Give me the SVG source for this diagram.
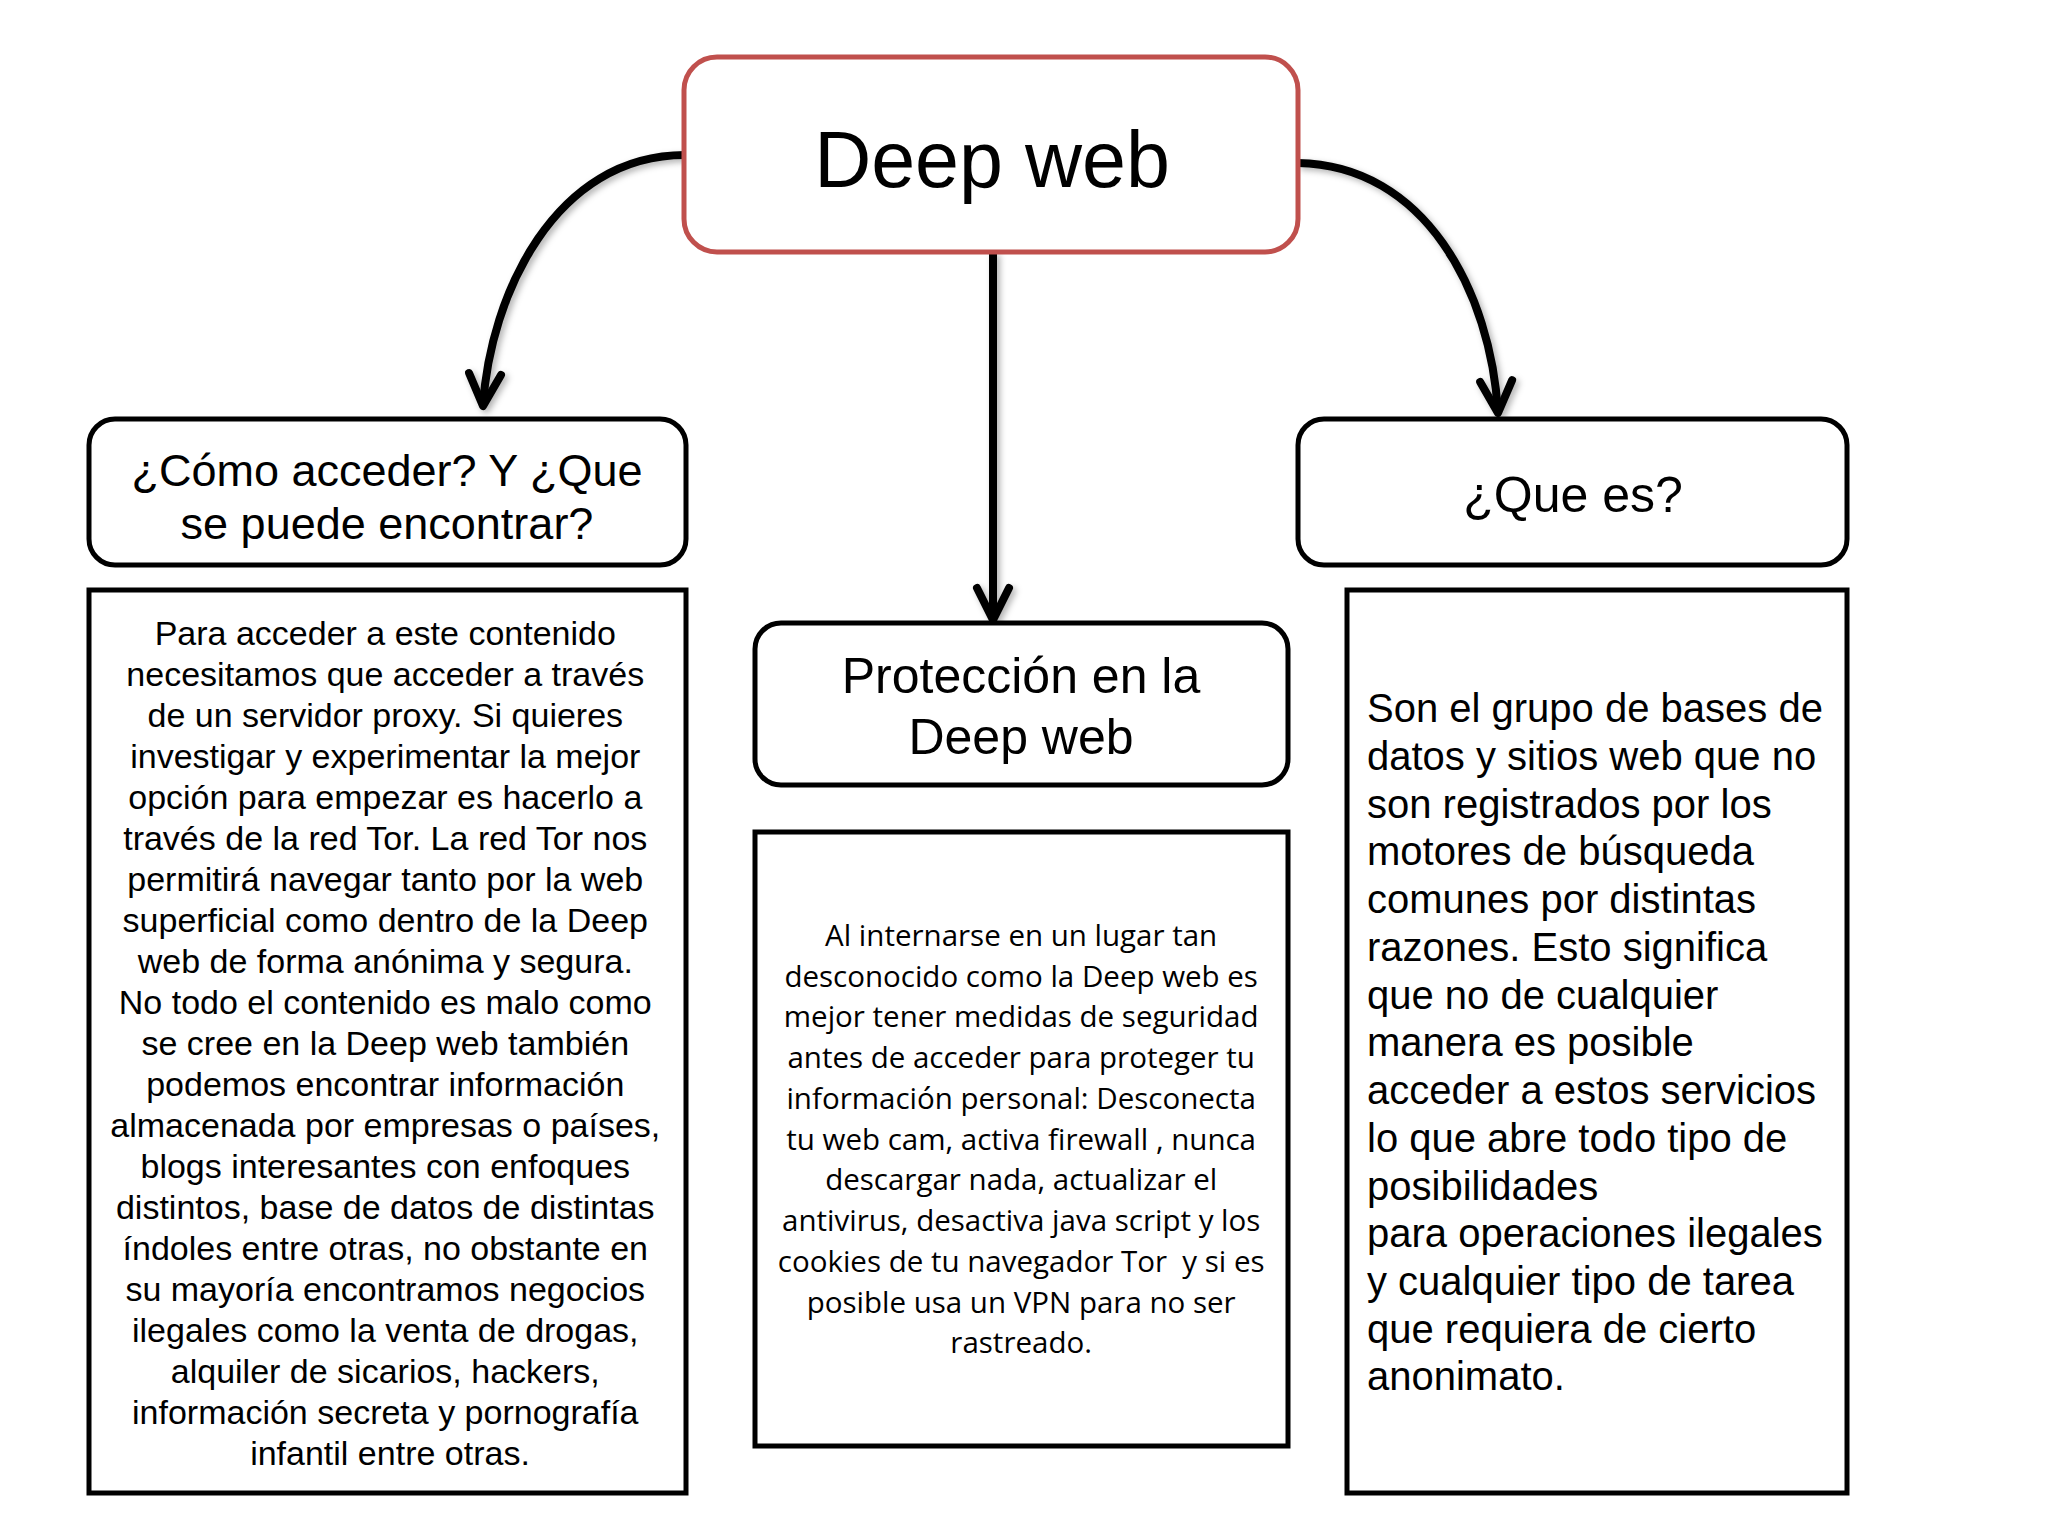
<svg xmlns="http://www.w3.org/2000/svg" width="2048" height="1536" viewBox="0 0 2048 1536">
<style>
.bg{fill:#ffffff}
.box{fill:#ffffff;stroke:#000000;stroke-width:5}
.root{fill:#ffffff;stroke:#c0504d;stroke-width:5}
.t{font-family:"Liberation Sans",Arial,sans-serif;fill:#000000;text-anchor:middle}
.tl{font-family:"Liberation Sans",Arial,sans-serif;fill:#000000;font-size:40px}
.tc{font-family:"Open Sans","Noto Sans",sans-serif;fill:#000000;text-anchor:middle;font-size:29.5px}
.body{font-size:34px}
.conn{fill:none;stroke:#000000;stroke-width:8;marker-end:url(#chev)}
</style>
<defs>
<filter id="sh" x="-20%" y="-20%" width="140%" height="140%">
<feDropShadow dx="3" dy="3" stdDeviation="3" flood-color="#000000" flood-opacity="0.3"/>
</filter>
<marker id="chev" viewBox="-40 -25 50 50" refX="0" refY="0" markerWidth="50" markerHeight="50" markerUnits="userSpaceOnUse" orient="auto">
<path d="M-32,-16 L0,0 L-32,16" fill="none" stroke="#000000" stroke-width="8" stroke-linecap="round" stroke-linejoin="round"/>
</marker>
</defs>
<rect class="bg" x="0" y="0" width="2048" height="1536"/>
<g id="connectors" filter="url(#sh)">
<path class="conn" d="M685,155 C555,155 490,295 483,406"/>
<path class="conn" d="M1298,163 C1425,165 1491,292 1498,413"/>
<path class="conn" d="M993,252 L993,620"/>
</g>
<g id="node-deepweb">
<rect class="root" x="684" y="57" width="614" height="195" rx="33"/>
<text class="t" x="992" y="187" font-size="79">Deep web</text>
</g>
<g id="node-como">
<rect class="box" x="89" y="419" width="597" height="146" rx="26"/>
<text class="t" font-size="45"><tspan x="387" y="486">¿Cómo acceder? Y ¿Que</tspan><tspan x="387" y="539">se puede encontrar?</tspan></text>
</g>
<g id="node-proteccion">
<rect class="box" x="755" y="623" width="533" height="162" rx="26"/>
<text class="t" font-size="50"><tspan x="1021" y="693">Protección en la</tspan><tspan x="1021" y="754">Deep web</tspan></text>
</g>
<g id="node-quees">
<rect class="box" x="1298" y="419" width="549" height="146" rx="26"/>
<text class="t" x="1573" y="512" font-size="50">¿Que es?</text>
</g>
<g id="node-como-body">
<rect class="box" x="89" y="590" width="597" height="903"/>
<text class="t body">
<tspan x="390" y="645">Para acceder a este contenido</tspan>
<tspan x="390" y="686">necesitamos que acceder a través</tspan>
<tspan x="390" y="727">de un servidor proxy. Si quieres</tspan>
<tspan x="390" y="768">investigar y experimentar la mejor</tspan>
<tspan x="390" y="809">opción para empezar es hacerlo a</tspan>
<tspan x="390" y="850">través de la red Tor. La red Tor nos</tspan>
<tspan x="390" y="891">permitirá navegar tanto por la web</tspan>
<tspan x="390" y="932">superficial como dentro de la Deep</tspan>
<tspan x="390" y="973">web de forma anónima y segura.</tspan>
<tspan x="390" y="1014">No todo el contenido es malo como</tspan>
<tspan x="390" y="1055">se cree en la Deep web también</tspan>
<tspan x="390" y="1096">podemos encontrar información</tspan>
<tspan x="390" y="1137">almacenada por empresas o países,</tspan>
<tspan x="390" y="1178">blogs interesantes con enfoques</tspan>
<tspan x="390" y="1219">distintos, base de datos de distintas</tspan>
<tspan x="390" y="1260">índoles entre otras, no obstante en</tspan>
<tspan x="390" y="1301">su mayoría encontramos negocios</tspan>
<tspan x="390" y="1342">ilegales como la venta de drogas,</tspan>
<tspan x="390" y="1383">alquiler de sicarios, hackers,</tspan>
<tspan x="390" y="1424">información secreta y pornografía</tspan>
<tspan x="390" y="1465">infantil entre otras.</tspan>
</text>
</g>
<g id="node-proteccion-body">
<rect class="box" x="755" y="832" width="533" height="614"/>
<text class="tc" xml:space="preserve">
<tspan x="1025" y="946">Al internarse en un lugar tan</tspan>
<tspan x="1025" y="987">desconocido como la Deep web es</tspan>
<tspan x="1025" y="1027">mejor tener medidas de seguridad</tspan>
<tspan x="1025" y="1068">antes de acceder para proteger tu</tspan>
<tspan x="1025" y="1109">información personal: Desconecta</tspan>
<tspan x="1025" y="1150">tu web cam, activa firewall , nunca</tspan>
<tspan x="1025" y="1190">descargar nada, actualizar el</tspan>
<tspan x="1025" y="1231">antivirus, desactiva java script y los</tspan>
<tspan x="1025" y="1272">cookies de tu navegador Tor  y si es</tspan>
<tspan x="1025" y="1313">posible usa un VPN para no ser</tspan>
<tspan x="1025" y="1353">rastreado.</tspan>
</text>
</g>
<g id="node-quees-body">
<rect class="box" x="1347" y="590" width="500" height="903"/>
<text class="tl">
<tspan x="1367" y="722">Son el grupo de bases de</tspan>
<tspan x="1367" y="770">datos y sitios web que no</tspan>
<tspan x="1367" y="818">son registrados por los</tspan>
<tspan x="1367" y="865">motores de búsqueda</tspan>
<tspan x="1367" y="913">comunes por distintas</tspan>
<tspan x="1367" y="961">razones. Esto significa</tspan>
<tspan x="1367" y="1009">que no de cualquier</tspan>
<tspan x="1367" y="1056">manera es posible</tspan>
<tspan x="1367" y="1104">acceder a estos servicios</tspan>
<tspan x="1367" y="1152">lo que abre todo tipo de</tspan>
<tspan x="1367" y="1200">posibilidades</tspan>
<tspan x="1367" y="1247">para operaciones ilegales</tspan>
<tspan x="1367" y="1295">y cualquier tipo de tarea</tspan>
<tspan x="1367" y="1343">que requiera de cierto</tspan>
<tspan x="1367" y="1390">anonimato.</tspan>
</text>
</g>
</svg>
